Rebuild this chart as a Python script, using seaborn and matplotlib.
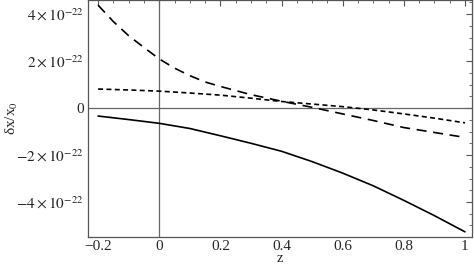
import numpy as np
import pandas as pd
import seaborn as sns
import matplotlib
matplotlib.use("Agg")
import matplotlib.pyplot as plt
from matplotlib.ticker import MultipleLocator, FixedLocator

# data (y in units of 1e-22)
z_solid = [-0.2, -0.1, 0.0, 0.1, 0.2, 0.3, 0.4, 0.5, 0.6, 0.7, 0.8, 0.9, 1.0]
solid = [-0.34, -0.49, -0.65, -0.87, -1.18, -1.50, -1.84, -2.28, -2.77, -3.31, -3.93, -4.58, -5.27]
z_long = [-0.2, -0.15, -0.1, -0.05, 0.0, 0.05, 0.1, 0.15, 0.2, 0.3, 0.4, 0.5, 0.6, 0.7, 0.8, 0.9, 1.0]
long_dash = [4.38, 3.68, 3.08, 2.58, 2.09, 1.70, 1.38, 1.11, 0.92, 0.57, 0.29, 0.03, -0.25, -0.53, -0.83, -1.04, -1.25]
z_short = [-0.2, -0.1, 0.0, 0.1, 0.2, 0.3, 0.4, 0.5, 0.6, 0.7, 0.8, 0.9, 1.0]
short_dash = [0.81, 0.77, 0.72, 0.64, 0.55, 0.42, 0.28, 0.17, 0.06, -0.08, -0.25, -0.43, -0.63]
ytick_vals = [-4, -2, 0, 2, 4]
ytick_labels = [r"$-4\times10^{-22}$", r"$-2\times10^{-22}$", "0", r"$2\times10^{-22}$", r"$4\times10^{-22}$"]
xtick_vals = [-0.2, 0, 0.2, 0.4, 0.6, 0.8, 1]
xtick_labels = ["\u22120.2", "0", "0.2", "0.4", "0.6", "0.8", "1"]

sns.set_style("white")
plt.rcParams['font.family'] = ['Liberation Serif', 'DejaVu Serif']
plt.rcParams['mathtext.fontset'] = 'stix'

fig = plt.figure(figsize=(4.74, 2.67), dpi=100)
ax = fig.add_axes([88/474, 1 - 237/267, 384/474, 237/267])

ax.axhline(0, color="#666666", lw=0.9, zorder=1)
ax.axvline(0, color="#666666", lw=0.9, zorder=1)
sns.lineplot(x=z_solid, y=solid, color="black", lw=1.2, ax=ax)
sns.lineplot(x=z_long, y=long_dash, color="black", lw=1.2, linestyle=(0, (6, 4)), ax=ax)
sns.lineplot(x=z_short, y=short_dash, color="black", lw=1.2, linestyle=(0, (3, 2)), ax=ax)

ax.set_xlim(-0.233, 1.023)
ax.set_ylim(-5.49, 4.6)
ax.xaxis.set_major_locator(FixedLocator(xtick_vals))
ax.set_xticklabels(xtick_labels)
ax.yaxis.set_major_locator(FixedLocator(ytick_vals))
ax.set_yticklabels(ytick_labels)
ax.xaxis.set_minor_locator(MultipleLocator(0.05))
ax.yaxis.set_minor_locator(MultipleLocator(0.5))
ax.tick_params(which="both", direction="in", top=True, right=True, color="#555555", labelsize=11, pad=3)
ax.tick_params(axis="x", which="major", pad=2)
ax.tick_params(which="major", length=4, width=0.8)
ax.tick_params(which="minor", length=2, width=0.6)
for s in ax.spines.values():
    s.set_color("#555555")
    s.set_linewidth(0.9)
ax.set_xlabel("z", fontsize=10.5)
ax.set_ylabel("\u03b4x/x$_0$", fontsize=11)
ax.xaxis.set_label_coords(280/474, 1 - 252.5/267, transform=fig.transFigure)
ax.yaxis.set_label_coords(4/474, 1 - 118/267, transform=fig.transFigure)
ax.yaxis.label.set_va("top")
fig.savefig("out.png", dpi=100)
